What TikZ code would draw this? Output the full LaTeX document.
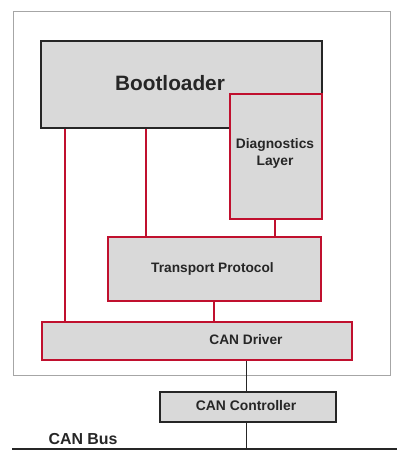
\documentclass[tikz,border=0pt]{standalone}
\usepackage{fontspec}
\setmainfont{Liberation Sans}
\begin{document}
\begin{tikzpicture}[x=1pt,y=-1pt,
  box/.style={draw,fill=boxgray,inner sep=0pt,anchor=north west},
  redbox/.style={box,draw=canred,line width=2pt},
  blackbox/.style={box,draw=black!85,line width=2pt},
  redline/.style={draw=canred,line width=2pt},
  blkline/.style={draw=black!85,line width=1.2pt},
  lbl/.style={font=\bfseries,text=black!85,inner sep=0pt,align=center}]
\definecolor{canred}{HTML}{C0102E}
\definecolor{boxgray}{HTML}{D9D9D9}
\useasboundingbox (0,0) rectangle (412,462);
% outer frame
\draw[draw=black!35,line width=0.9pt] (13,11) rectangle (390,375);
% boxes
\node[blackbox,minimum width=281.5pt,minimum height=87pt] (boot) at (39.5,40.5) {};
\node[redbox,minimum width=92pt,minimum height=125pt] (diag) at (229,93) {};
\node[redbox,minimum width=213pt,minimum height=64pt] (tp) at (107,236) {};
\node[redbox,minimum width=310pt,minimum height=38pt] (drv) at (41,321) {};
\node[blackbox,minimum width=176pt,minimum height=30.5pt] (ctrl) at (159,390.5) {};
% labels
\node[lbl,font=\bfseries\fontsize{20.8}{24}\selectfont] (tboot) at (170,83) {Bootloader};
\node[lbl,font=\bfseries\fontsize{13.8}{17}\selectfont] (tdiag) at (275,153.5) {Diagnostics\\Layer};
\node[lbl,font=\bfseries\fontsize{13.7}{16}\selectfont] (ttp) at (212.5,269) {Transport Protocol};
\node[lbl,font=\bfseries\fontsize{13.7}{16}\selectfont] (tdrv) at (246,340) {CAN Driver};
\node[lbl,font=\bfseries\fontsize{13.9}{16}\selectfont] (tctrl) at (246,405.5) {CAN Controller};
\node[lbl,font=\bfseries\fontsize{15.9}{18}\selectfont] (tbus) at (83,439.5) {CAN Bus};
% connectors
\coordinate (x1) at (65,0);
\coordinate (x2) at (146,0);
\coordinate (x3) at (275,0);
\coordinate (x4) at (214,0);
\coordinate (x5) at (246.7,0);
\coordinate (busL) at (12,449.3);
\coordinate (busR) at (397,449.3);
\draw[redline] (x1 |- boot.south) -- (x1 |- drv.north);
\draw[redline] (x2 |- boot.south) -- (x2 |- tp.north);
\draw[redline] (x3 |- diag.south) -- (x3 |- tp.north);
\draw[draw=canred,line width=1.1pt] (x4 |- tp.south) -- (x4 |- drv.north);
\draw[blkline] (x5 |- drv.south) -- (x5 |- ctrl.north);
\draw[blkline] (x5 |- ctrl.south) -- (x5 |- busL);
\draw[draw=black!85,line width=2pt] (busL) -- (busR);
\end{tikzpicture}
\end{document}
